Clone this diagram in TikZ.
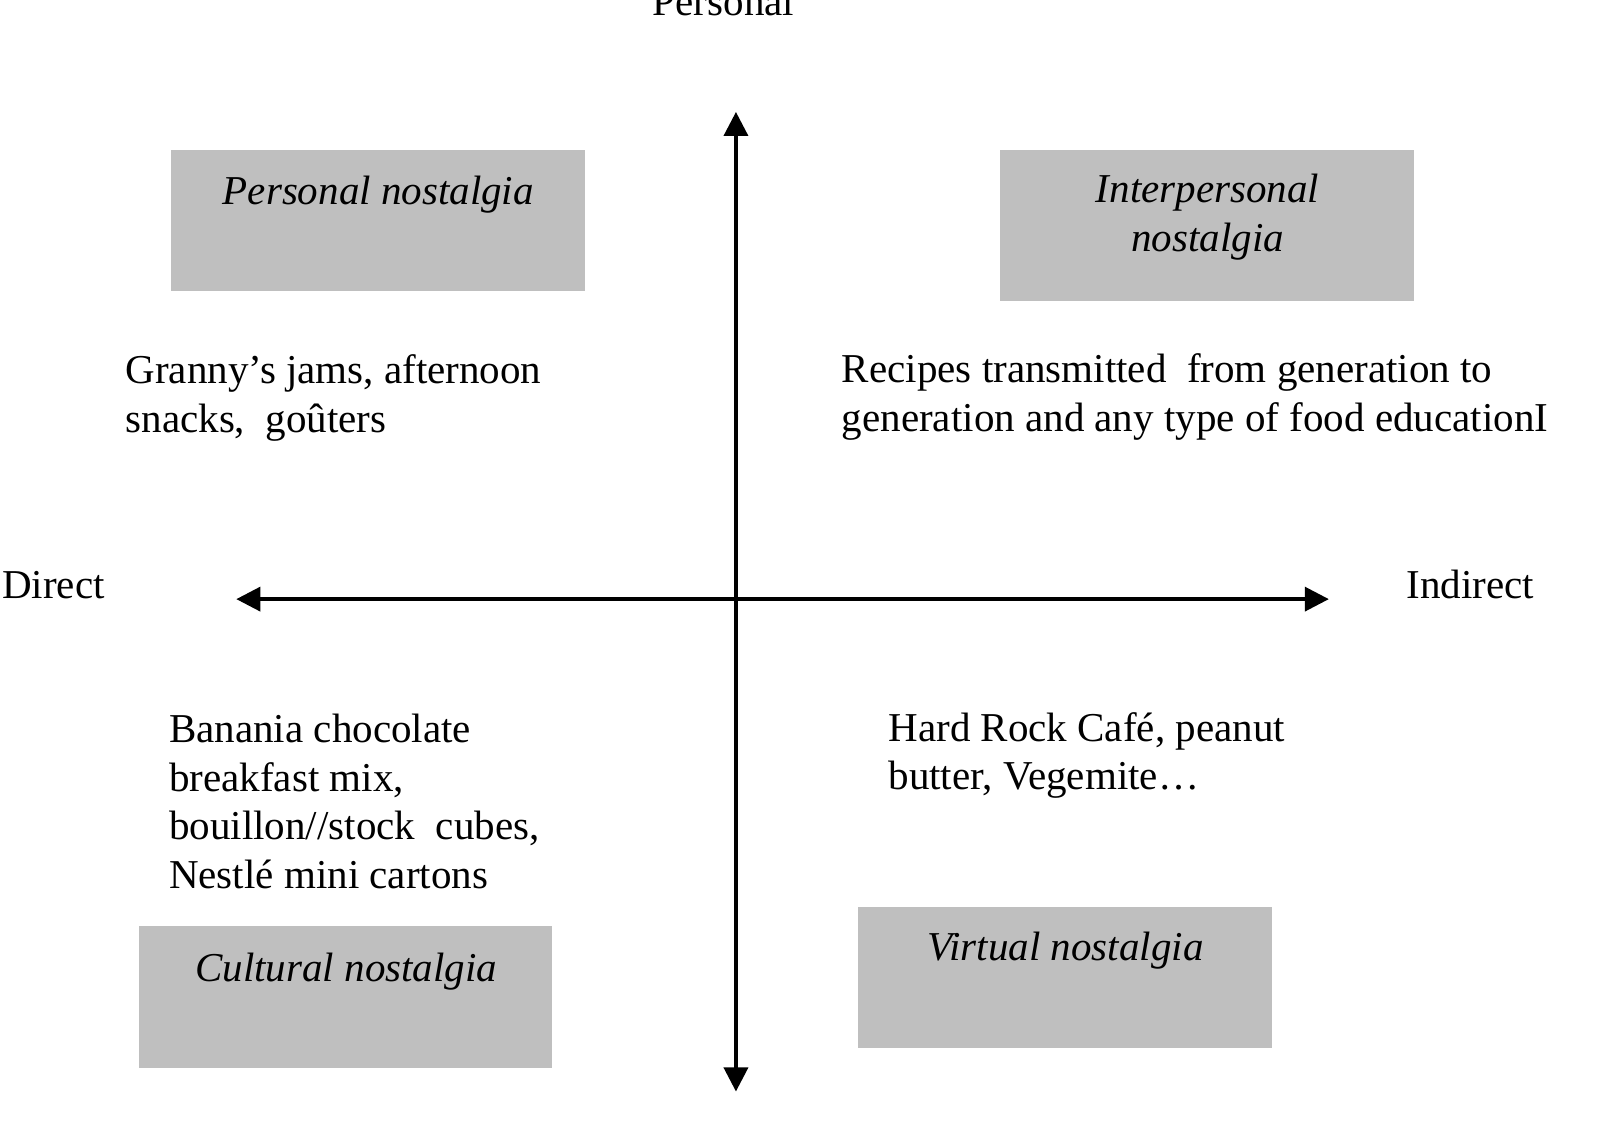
\documentclass[tikz,border=0pt]{standalone}
\usepackage{fontspec}
\setmainfont{Liberation Serif}
\usetikzlibrary{arrows.meta}
\begin{document}
\begin{tikzpicture}[x=1.036pt,y=-1.036pt,
  lab/.style={inner sep=0,font=\fontsize{41}{48.5}\selectfont},
  it/.style={lab,anchor=base,font=\itshape\fontsize{41}{48.5}\selectfont},
  txt/.style={lab,align=left,anchor=base west},
  ax/.style={line width=3.5pt,{Triangle[length=24pt,width=24pt]}-{Triangle[length=24pt,width=24pt]}}]
\useasboundingbox (0,0) rectangle (1560,1085);
\fill[black!25] (165,145) rectangle (564,281);
\fill[black!25] (965,145) rectangle (1364,290);
\fill[black!25] (134,893) rectangle (533,1030);
\fill[black!25] (828,875) rectangle (1227,1011);
\node[it] (pn) at (365,197) {Personal nostalgia};
\node[it] (ip1) at (1165,195) {Interpersonal};
\node[it] (ip2) at (1165,243) {nostalgia};
\node[it] (cn) at (334,947) {Cultural nostalgia};
\node[it] (vn) at (1028,927) {Virtual nostalgia};
\node[lab,anchor=base] (top) at (698,15) {Personal};
\node[lab,anchor=base west] (dir) at (2,577) {Direct};
\node[lab,anchor=base west] (ind) at (1357,577) {Indirect};
\node[txt] (g) at (121,417) {Granny’s jams, afternoon\\snacks,~ goûters};
\node[txt] (r) at (812,416) {Recipes transmitted~ from generation to\\generation and any type of food educationI};
\node[txt] (b) at (163,857) {Banania chocolate\\breakfast mix,\\bouillon//stock~ cubes,\\Nestlé mini cartons};
\node[txt] (h) at (857,762) {Hard Rock Café, peanut\\butter, Vegemite…};
\coordinate (up) at (710,108);
\coordinate (dn) at (710,1053);
\coordinate (lf) at (228,578);
\coordinate (rt) at (1282,578);
\draw[ax] (up) -- (dn);
\draw[ax] (lf) -- (rt);
\end{tikzpicture}
\end{document}
